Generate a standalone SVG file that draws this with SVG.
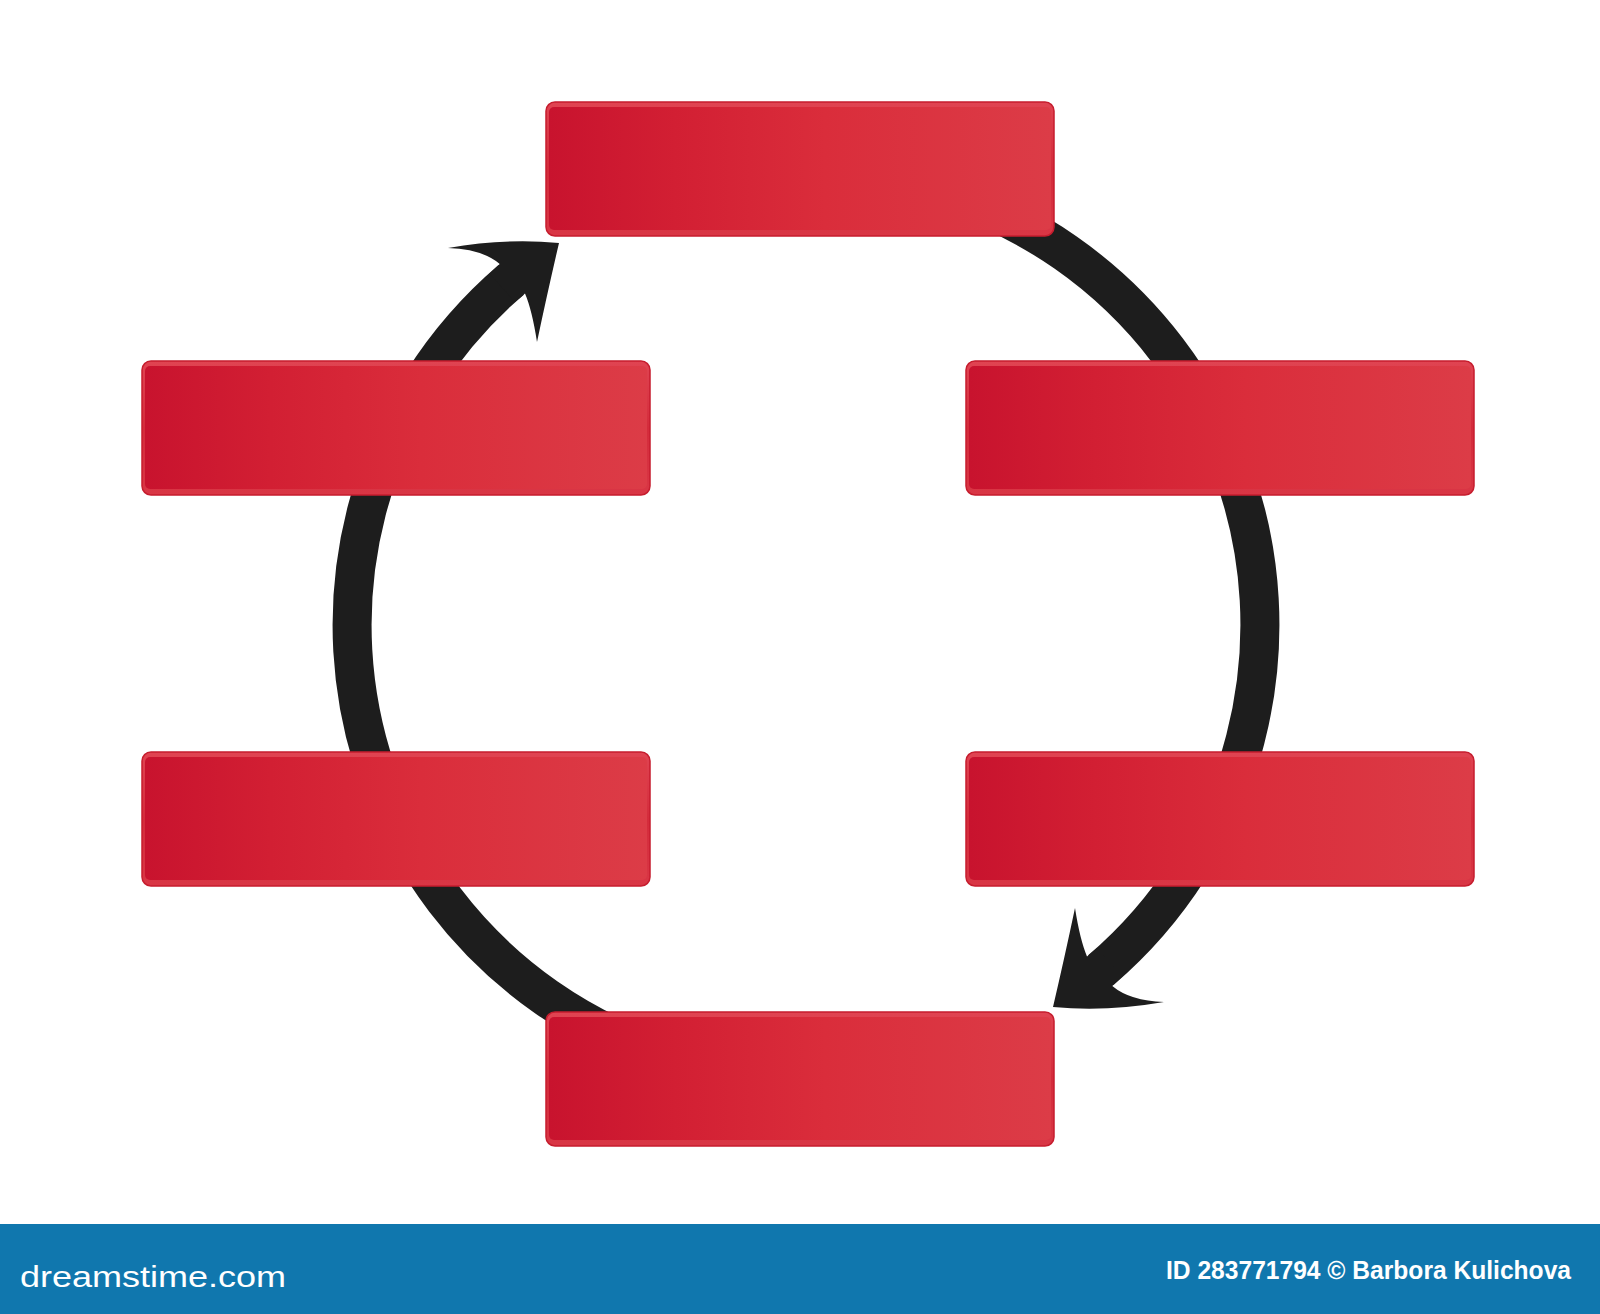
<svg xmlns="http://www.w3.org/2000/svg" width="1600" height="1314" viewBox="0 0 1600 1314">
<style>
.ring{fill:none;stroke:#1d1d1d;stroke-width:39;stroke-linecap:butt}
.head{fill:#1d1d1d}
.frame{fill:url(#frameGrad);stroke:#c61d2e;stroke-width:1.5}
.body{fill:url(#bodyGrad)}
.foot{fill:#ffffff;font-family:"Liberation Sans",Arial,sans-serif}
</style>
<defs>
<linearGradient id="bodyGrad" x1="0" y1="0" x2="1" y2="0">
<stop offset="0" stop-color="#c8132e"/>
<stop offset="0.25" stop-color="#d21f33"/>
<stop offset="0.55" stop-color="#da2d3b"/>
<stop offset="1" stop-color="#dc3c47"/>
</linearGradient>
<linearGradient id="frameGrad" x1="0" y1="0" x2="0" y2="1">
<stop offset="0" stop-color="#e04452"/>
<stop offset="0.5" stop-color="#d42b3b"/>
<stop offset="1" stop-color="#d93645"/>
</linearGradient>
<path id="arrowHead" class="head" d="M 559 243 Q 505 238 448 248 Q 482 249 499.7 263.9 L 489.5 273.5 L 515 301.7 L 525 293.6 Q 532 310 537 342 Q 548 290 559 243 Z"/>
</defs>
<rect x="0" y="0" width="1600" height="1314" fill="#ffffff"/>
<g id="connectors">
<path class="ring" d="M 806 1079 A 454 454 0 0 1 511.2 279.8"/>
<path class="ring" d="M 806 171 A 454 454 0 0 1 1100.8 970.2"/>
<use href="#arrowHead"/>
<use href="#arrowHead" transform="rotate(180 806 625)"/>
</g>
<g id="box-top">
<rect class="frame" x="546" y="102" width="508" height="134" rx="9"/>
<rect class="body" x="549" y="107" width="502" height="123" rx="5"/>
</g>
<g id="box-upper-left">
<rect class="frame" x="142" y="361" width="508" height="134" rx="9"/>
<rect class="body" x="145" y="366" width="502" height="123" rx="5"/>
</g>
<g id="box-upper-right">
<rect class="frame" x="966" y="361" width="508" height="134" rx="9"/>
<rect class="body" x="969" y="366" width="502" height="123" rx="5"/>
</g>
<g id="box-lower-left">
<rect class="frame" x="142" y="752" width="508" height="134" rx="9"/>
<rect class="body" x="145" y="757" width="502" height="123" rx="5"/>
</g>
<g id="box-lower-right">
<rect class="frame" x="966" y="752" width="508" height="134" rx="9"/>
<rect class="body" x="969" y="757" width="502" height="123" rx="5"/>
</g>
<g id="box-bottom">
<rect class="frame" x="546" y="1012" width="508" height="134" rx="9"/>
<rect class="body" x="549" y="1017" width="502" height="123" rx="5"/>
</g>
<g id="footer">
<rect x="0" y="1224" width="1600" height="90" fill="#1077ae"/>
<text class="foot" x="20" y="1287" font-size="30" textLength="266" lengthAdjust="spacingAndGlyphs">dreamstime.com</text>
<text class="foot" x="1166" y="1279" font-size="25" font-weight="bold" textLength="405" lengthAdjust="spacingAndGlyphs">ID 283771794 © Barbora Kulichova</text>
</g>
</svg>
